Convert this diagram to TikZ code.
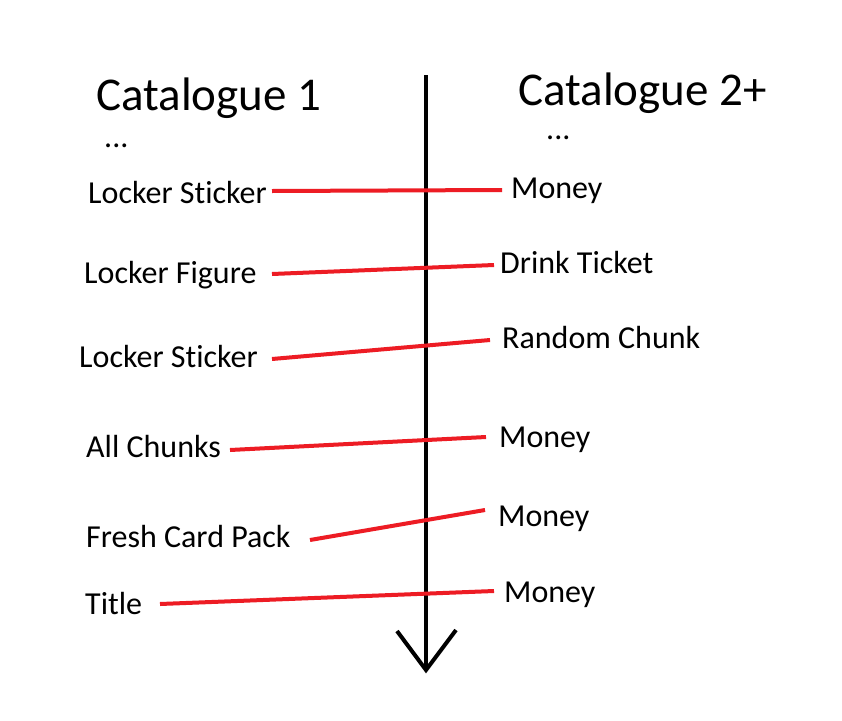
\documentclass[tikz,border=0pt]{standalone}
\usepackage{fontspec}
\setmainfont{Carlito}[RawFeature=-liga]
\definecolor{paintred}{HTML}{ED1C24}
\begin{document}
\begin{tikzpicture}[x=1pt,y=-1pt,
  lbl/.style={anchor=base west,inner sep=0pt,font=\fontsize{32}{38}\selectfont},
  dots/.style={lbl,text height=4pt,text depth=0pt},
  ttl/.style={anchor=base west,inner sep=0pt,font=\fontsize{47}{54}\selectfont},
  link/.style={draw=paintred,line width=4pt},
  axis/.style={draw=black,line width=4pt}]
\useasboundingbox[fill=white] (0,0) rectangle (842,720);
% axis
\coordinate (top) at (426,75);
\coordinate (bot) at (426,670);
\coordinate (hl) at (397,631);
\coordinate (hr) at (456,630);
\draw[axis] (top) -- (bot);
\draw[axis,line join=miter] (hl) -- (bot) -- (hr);
% titles
\node[ttl] (c1) at (96,110) {Catalogue 1};
\node[ttl] (c2) at (518,105) {Catalogue 2+};
\node[dots] (d1) at (104,147) {...};
\node[dots] (d2) at (546,139) {...};
% left labels
\node[lbl] (l1) at (88,203) {Locker Sticker};
\node[lbl] (l2) at (84,283) {Locker Figure};
\node[lbl] (l3) at (79,367) {Locker Sticker};
\node[lbl] (l4) at (86,457) {All Chunks};
\node[lbl] (l5) at (86,547) {Fresh Card Pack};
\node[lbl] (l6) at (85,614) {Title};
% right labels
\node[lbl] (r1) at (511,198) {Money};
\node[lbl] (r2) at (500,273) {Drink Ticket};
\node[lbl] (r3) at (502,348) {Random Chunk};
\node[lbl] (r4) at (499,447) {Money};
\node[lbl] (r5) at (498,526) {Money};
\node[lbl] (r6) at (504,602) {Money};
% link ends
\coordinate (a1) at (272,191); \coordinate (b1) at (502,190);
\coordinate (a2) at (272,274); \coordinate (b2) at (494,265);
\coordinate (a3) at (272,359); \coordinate (b3) at (490,340);
\coordinate (a4) at (230,450); \coordinate (b4) at (486,437);
\coordinate (a5) at (310,540); \coordinate (b5) at (485,510);
\coordinate (a6) at (160,604); \coordinate (b6) at (494,591);
\foreach \i in {1,...,6} {\draw[link] (a\i) -- (b\i);}
\end{tikzpicture}
\end{document}
